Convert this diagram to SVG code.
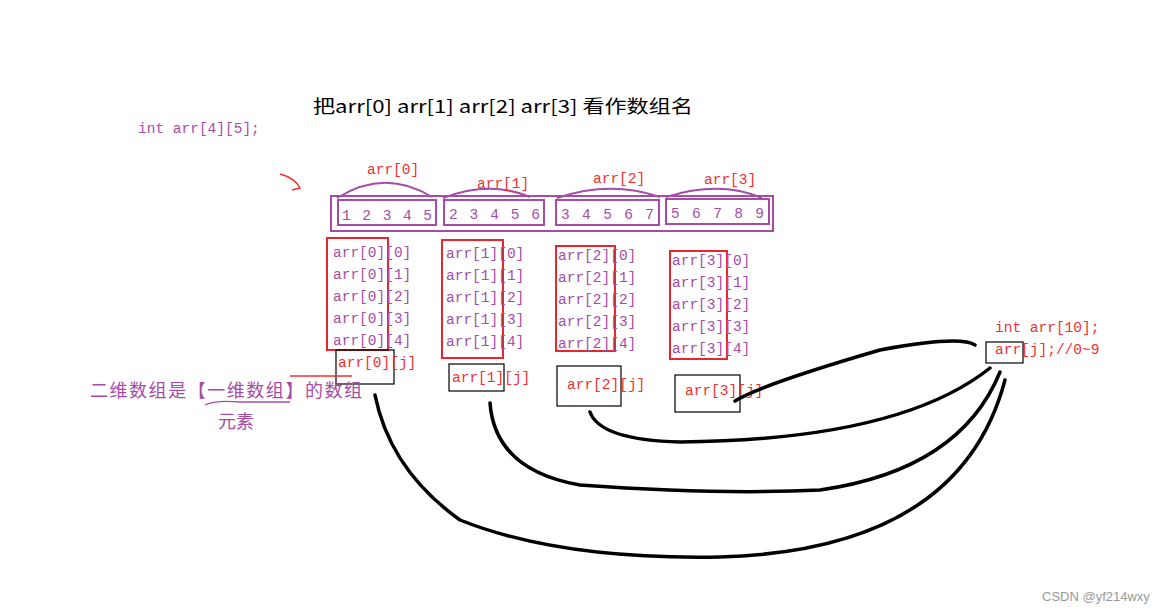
<svg xmlns="http://www.w3.org/2000/svg" width="1165" height="613" viewBox="0 0 1165 613">
<style>
.m{font-family:"Liberation Mono","Noto Sans CJK SC",monospace;font-size:14.5px}
.p{fill:#a64ca6}.r{fill:#f03030}
.pb{fill:none;stroke:#a64ca6;stroke-width:2}
.rb{fill:none;stroke:#e8262d;stroke-width:2}
.kb{fill:none;stroke:#000;stroke-width:1.2}
.c{fill:none;stroke:#000;stroke-width:3.5;stroke-linecap:round}
.cj{font-family:"Noto Sans CJK SC",sans-serif;font-size:18px}
</style>
<rect width="1165" height="613" fill="#fff"/>
<g id="title"><text x="313" y="113" class="cj" font-size="21" fill="#000" textLength="380" lengthAdjust="spacingAndGlyphs">把arr[0] arr[1] arr[2] arr[3] 看作数组名</text></g>
<g id="decl"><text x="138" y="133" class="m p" font-size="16">int arr[4][5];</text></g>
<g id="arrow"><path d="M280 174 Q295 178 300 188 L292 190" fill="none" stroke="#f03030" stroke-width="1.5"/></g>
<g id="outer"><rect x="331" y="196" width="442" height="35" class="pb"/></g>
<g id="rows" class="m p" font-size="18">
<rect x="338" y="200" width="98" height="25" class="pb"/><text x="342" y="220" textLength="90">1 2 3 4 5</text>
<rect x="444" y="200" width="100" height="25" class="pb"/><text x="449" y="219" textLength="91">2 3 4 5 6</text>
<rect x="556" y="200" width="103" height="25" class="pb"/><text x="561" y="219" textLength="93">3 4 5 6 7</text>
<rect x="666" y="199" width="103" height="25" class="pb"/><text x="671" y="218" textLength="93">5 6 7 8 9</text>
</g>
<g id="arcs" class="pb" stroke-width="1.5">
<path d="M337 198 Q385 168 432 197"/><path d="M443 198 Q490 180 530 197"/>
<path d="M557 198 Q610 180 660 197"/><path d="M666 197 Q720 180 762 198"/>
</g>
<g id="rowlabels" class="m r" font-size="16">
<text x="367" y="174">arr[0]</text><text x="477" y="188">arr[1]</text>
<text x="593" y="183">arr[2]</text><text x="704" y="184">arr[3]</text>
</g>
<g id="col0"><rect x="327" y="238" width="61" height="112" class="rb"/>
<g class="m p"><text x="333" y="257">arr[0][0]</text><text x="333" y="279">arr[0][1]</text><text x="333" y="301">arr[0][2]</text><text x="333" y="323">arr[0][3]</text><text x="333" y="345">arr[0][4]</text></g>
<rect x="336" y="350" width="58" height="34" class="kb"/><text x="338" y="367" class="m r">arr[0][j]</text></g>
<g id="col1"><rect x="442" y="240" width="61" height="118" class="rb"/>
<g class="m p"><text x="446" y="258">arr[1][0]</text><text x="446" y="280">arr[1][1]</text><text x="446" y="302">arr[1][2]</text><text x="446" y="324">arr[1][3]</text><text x="446" y="346">arr[1][4]</text></g>
<rect x="449" y="364" width="55" height="27" class="kb"/><text x="452" y="382" class="m r">arr[1][j]</text></g>
<g id="col2"><rect x="556" y="246" width="59" height="105" class="rb"/>
<g class="m p"><text x="558" y="260">arr[2][0]</text><text x="558" y="282">arr[2][1]</text><text x="558" y="304">arr[2][2]</text><text x="558" y="326">arr[2][3]</text><text x="558" y="348">arr[2][4]</text></g>
<rect x="557" y="366" width="64" height="40" class="kb"/><text x="567" y="389" class="m r">arr[2][j]</text></g>
<g id="col3"><rect x="670" y="251" width="57" height="108" class="rb"/>
<g class="m p"><text x="672" y="265">arr[3][0]</text><text x="672" y="287">arr[3][1]</text><text x="672" y="309">arr[3][2]</text><text x="672" y="331">arr[3][3]</text><text x="672" y="353">arr[3][4]</text></g>
<rect x="675" y="375" width="65" height="37" class="kb"/><text x="685" y="395" class="m r">arr[3][j]</text></g>
<g id="note"><text x="90" y="397" class="cj" fill="#a64ca6" textLength="272">二维数组是【一维数组】的数组</text><text x="218" y="428" class="cj" fill="#a64ca6">元素</text>
<path d="M205 405 Q215 400 240 402 L290 402" fill="none" stroke="#a64ca6" stroke-width="1.3"/>
<path d="M290 376 L352 376" stroke="#f03030" stroke-width="1.3"/></g>
<g id="decl2"><text x="995" y="332" class="m r">int arr[10];</text><text x="995" y="354" class="m r">arr[j];//0~9</text>
<rect x="986" y="342" width="37" height="21" class="kb"/></g>
<g id="connectors">
<path class="c" d="M735 401 Q760 385 880 350 Q960 335 975 345"/>
<path class="c" d="M590 412 Q600 440 680 442 Q900 440 990 368"/>
<path class="c" d="M490 403 Q495 470 580 485 Q720 495 820 490 Q960 470 1000 372"/>
<path class="c" d="M375 395 Q390 470 460 520 Q560 560 720 557 Q960 550 1005 380"/>
</g>
<text x="1042" y="601" font-family="Liberation Sans,sans-serif" font-size="13" fill="#999">CSDN @yf214wxy</text>
</svg>
